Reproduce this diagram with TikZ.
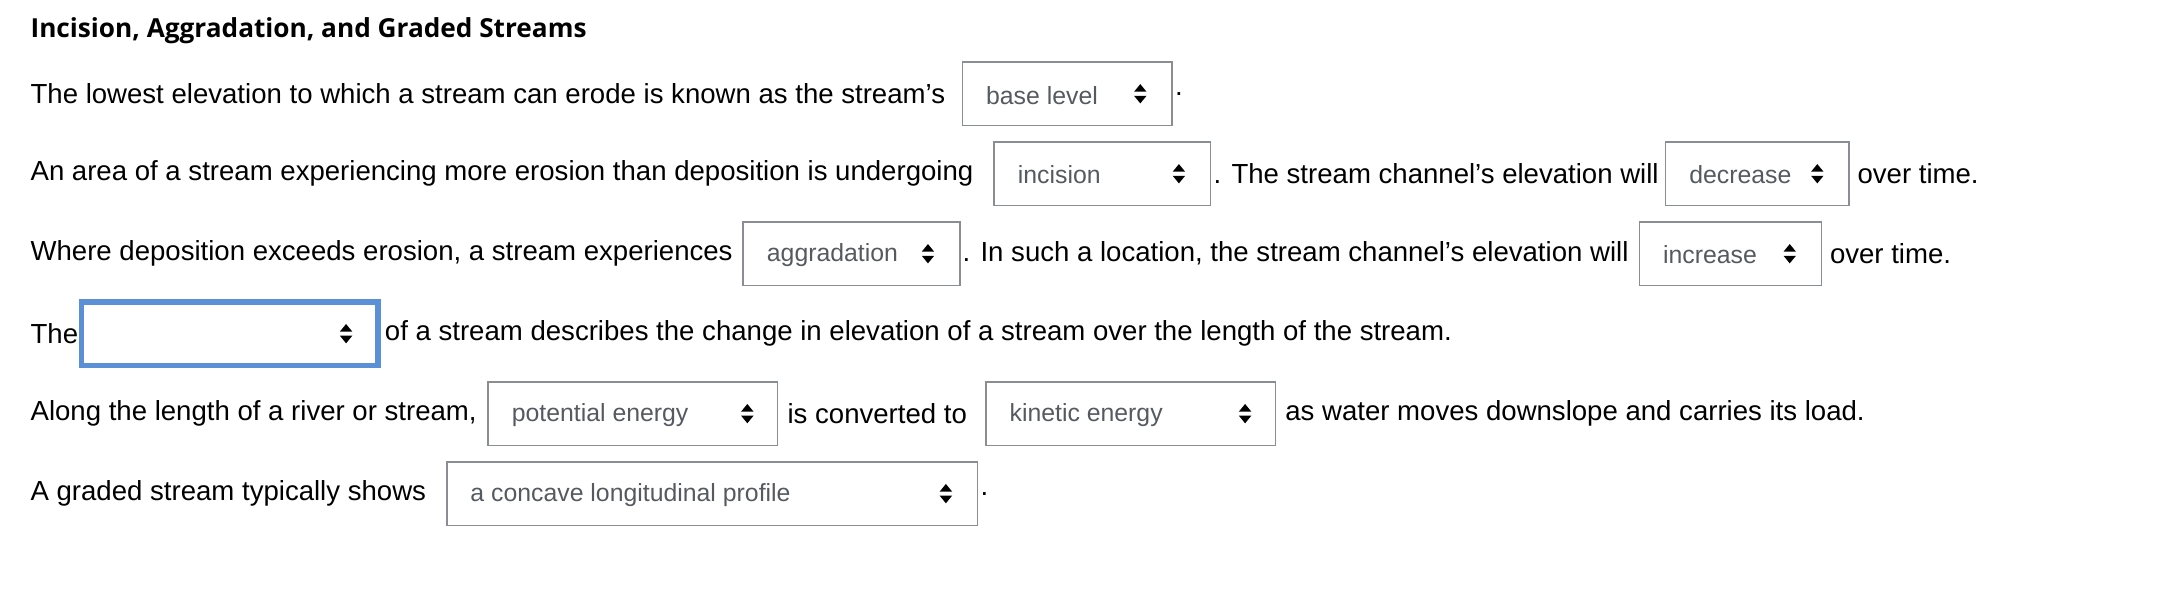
\documentclass[tikz,border=0pt]{standalone}
\usepackage{fontspec}
\setmainfont{Liberation Sans}
\newfontfamily\titlefont{Open Sans}
\definecolor{bd}{HTML}{8A8D93}
\definecolor{dt}{HTML}{555A60}
\definecolor{fb}{HTML}{5B8FD6}
\newcommand\ap{{\char"27}}
\newcommand\dd[7]{% name, x1, x2, y, text, arrowx, style
  \draw[#7] (#2,#4-23) rectangle (#3,#4+23);
  \node[dtext] (#1) at (#2+17,#4+1) {#5};
  \fill[black] (#6-4.5,#4-1.5) -- (#6+4.5,#4-1.5) -- (#6,#4-7) -- cycle;
  \fill[black] (#6-4.5,#4+1.5) -- (#6+4.5,#4+1.5) -- (#6,#4+7) -- cycle;}
\begin{document}
\begin{tikzpicture}[x=1pt,y=-1pt,
  txt/.style={anchor=west,inner sep=0pt,font=\fontsize{20}{22}\selectfont},
  dtext/.style={anchor=west,inner sep=0pt,text=dt,font=\fontsize{18}{20}\selectfont},
  box/.style={draw=bd,line width=1.2pt},
  fbox/.style={draw=fb,line width=4pt}]
\useasboundingbox (0,0) rectangle (1568,444);
\node[txt,font=\titlefont\bfseries\fontsize{19}{21}\selectfont] (title) at (22,22) {Incision, Aggradation, and Graded Streams};
% row 1
\node[txt] (t1) at (22,68) {The lowest elevation to which a stream can erode is known as the stream\ap s};
\dd{d1}{698}{850}{68}{base level}{827}{box}
\node[txt] (t1b) at (852,68) {.};
% row 2
\node[txt] (t2) at (22,126) {An area of a stream experiencing more erosion than deposition is undergoing};
\dd{d2}{721}{878}{126}{incision}{855}{box}
\node[txt] (t2b) at (880,126) {. The stream channel\ap s elevation will};
\dd{d3}{1208}{1341}{126}{decrease}{1318}{box}
\node[txt] (t2c) at (1347,126) {over time.};
% row 3
\node[txt] (t3) at (22,184) {Where deposition exceeds erosion, a stream experiences};
\dd{d4}{539}{696}{184}{aggradation}{673}{box}
\node[txt] (t3b) at (698,184) {. In such a location, the stream channel\ap s elevation will};
\dd{d5}{1189}{1321}{184}{increase}{1298}{box}
\node[txt] (t3c) at (1327,184) {over time.};
% row 4
\node[txt] (t4) at (22,242) {The};
\dd{d6}{59}{274}{242}{}{251}{fbox}
\node[txt] (t4b) at (279,242) {of a stream describes the change in elevation of a stream over the length of the stream.};
% row 5
\node[txt] (t5) at (22,300) {Along the length of a river or stream,};
\dd{d7}{354}{564}{300}{potential energy}{542}{box}
\node[txt] (t5b) at (571,300) {is converted to};
\dd{d8}{715}{925}{300}{kinetic energy}{903}{box}
\node[txt] (t5c) at (932,300) {as water moves downslope and carries its load.};
% row 6
\node[txt] (t6) at (22,358) {A graded stream typically shows};
\dd{d9}{324}{709}{358}{a concave longitudinal profile}{686}{box}
\node[txt] (t6b) at (711,358) {.};
\end{tikzpicture}
\end{document}
